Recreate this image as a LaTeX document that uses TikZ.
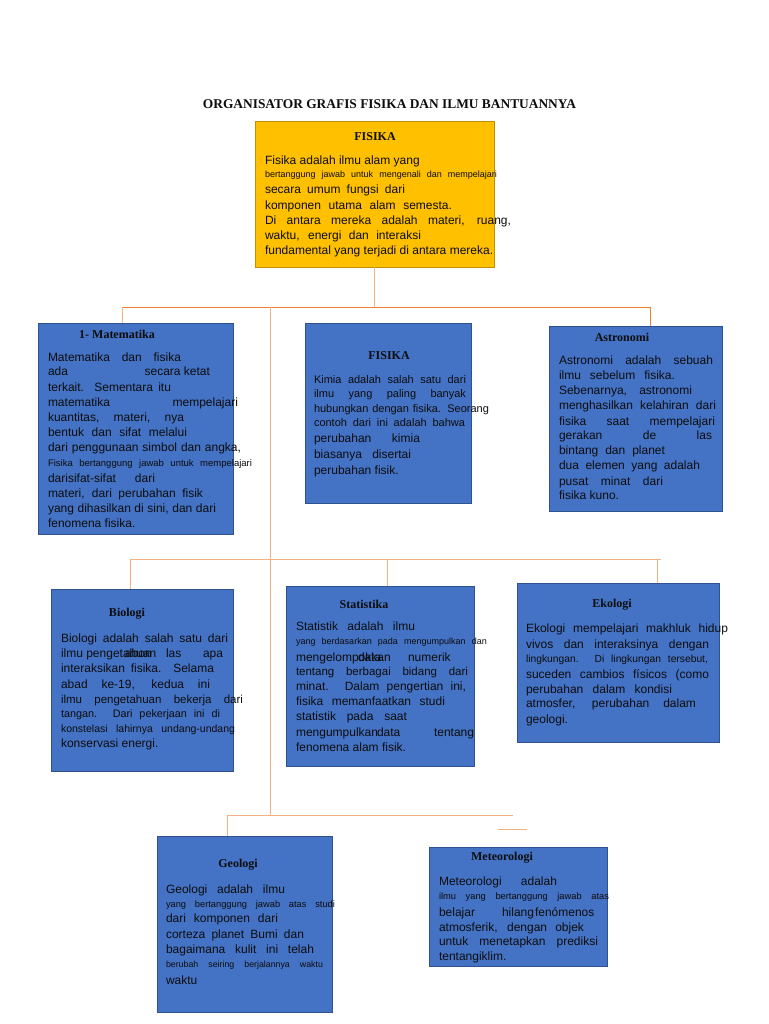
\documentclass[tikz,border=0pt]{standalone}
\usepackage{fontspec}
\setmainfont{Liberation Sans}
\newfontfamily\tnr{Liberation Serif}
\definecolor{bfill}{HTML}{4472C4}
\definecolor{bline}{HTML}{2F528F}
\definecolor{yfill}{HTML}{FFC000}
\definecolor{yline}{HTML}{BF9000}
\definecolor{ork}{HTML}{ED7D31}
\definecolor{orl}{HTML}{F4B183}
\definecolor{txt}{HTML}{0D0D0D}
\newcounter{lnc}
\newcommand\fsz[1]{\fontsize{#1}{#1}\selectfont}
\newcommand\tl[4][12]{\stepcounter{lnc}\node[tline,font=\fsz{#1}] (t\thelnc) at (#2,#3) {#4};}
\newcommand\jl[5][12]{\stepcounter{lnc}\node[tline,font=\fsz{#1}] (t\thelnc) at (#2,#3) {\makebox[\dimexpr #4pt-#2pt\relax][s]{#5}};}
\newcommand\bx[6]{\node[#2, minimum width={(#5-#3)*1pt}, minimum height={(#6-#4)*1pt}] (#1) at ({(#3+#5)/2},{(#4+#6)/2}) {};}
\tikzset{
  tline/.style={anchor=mid west, inner sep=0pt, outer sep=0pt, text=txt},
  ttl/.style={anchor=center, inner sep=0pt, font=\tnr\bfseries\fsz{12}, text=txt},
  bbox/.style={draw=bline, fill=bfill, line width=1pt, inner sep=0pt, outer sep=0pt},
  ybox/.style={draw=yline, fill=yfill, line width=1pt, inner sep=0pt, outer sep=0pt},
  conk/.style={draw=ork, line width=1pt},
  conl/.style={draw=orl, line width=1pt},
}
\begin{document}
\begin{tikzpicture}[x=1pt,y=-1pt]
\fill[white] (0,0) rectangle (768,1024);
\useasboundingbox (0,0) rectangle (768,1024);

\node[ttl, font=\tnr\bfseries\fsz{13.4}] (title) at (389.5,104) {ORGANISATOR GRAFIS FISIKA DAN ILMU BANTUANNYA};

% boxes
\bx{fis}{ybox}{255}{122}{494}{267}
\bx{mat}{bbox}{38}{323}{233}{534}
\bx{kim}{bbox}{305}{323}{471}{503}
\bx{ast}{bbox}{549}{326}{722}{511}
\bx{bio}{bbox}{51}{589}{233}{771}
\bx{sta}{bbox}{286}{586}{474}{766}
\bx{eko}{bbox}{517}{583}{719}{742}
\bx{geo}{bbox}{157}{836}{332}{1012}
\bx{met}{bbox}{429}{847}{607}{966}

% connectors
\coordinate (h1L) at (122,307);
\coordinate (h1R) at (650,307);
\coordinate (tr0) at (270,307);
\coordinate (tr1) at (270,815);
\coordinate (h2L) at (130,559);
\coordinate (h2R) at (661,559);
\coordinate (h2M) at (387,559);
\coordinate (h2E) at (657,559);
\coordinate (h3L) at (227,815);
\coordinate (h3R) at (513,815);
\coordinate (s1) at (498,829);
\coordinate (s2) at (527,829);
\draw[conl] (fis.south) -- (fis.south |- h1L);
\draw[conk] (h1L) -- (h1R);
\draw[conl] (h1L) -- (h1L |- mat.north);
\draw[conk] (h1R) -- (h1R |- ast.north);
\draw[conl] (tr0) -- (tr1);
\draw[conl] (h2L) -- (h2R);
\draw[conl] (h2L) -- (h2L |- bio.north);
\draw[conl] (h2M) -- (h2M |- sta.north);
\draw[conl] (h2E) -- (h2E |- eko.north);
\draw[conl] (h3L) -- (h3R);
\draw[conl] (h3L) -- (h3L |- geo.north);
\draw[conl] (s1) -- (s2);

% FISIKA (yellow)
\node[ttl] (fis-t) at (375,137) {FISIKA};
\tl{265}{162}{Fisika adalah ilmu alam yang}
\jl[9]{265}{175}{497}{bertanggung jawab untuk mengenali dan mempelajari}
\jl{265}{191}{405}{secara umum fungsi dari}
\jl{265}{207}{452}{komponen utama alam semesta.}
\jl{265}{222}{511}{Di antara mereka adalah materi, ruang,}
\jl{265}{237}{421}{waktu, energi dan interaksi}
\tl{265}{252}{fundamental yang terjadi di antara mereka.}

% Matematika
\node[ttl] (mat-t) at (117,334) {1- Matematika};
\jl{48}{359}{181}{Matematika dan fisika}
\tl{48}{373}{\makebox[162pt][l]{ada\hfill secara ketat}}
\jl{48}{389}{171}{terkait. Sementara itu}
\tl{48}{404}{\makebox[190pt][l]{matematika\hfill mempelajari}}
\jl{48}{419}{184}{kuantitas, materi, nya}
\jl{48}{434}{187}{bentuk dan sifat melalui}
\jl{48}{449}{241}{dari penggunaan simbol dan angka,}
\jl[9.5]{48}{464}{252}{Fisika bertanggung jawab untuk mempelajari}
\tl{48}{480}{\makebox[107pt][l]{darisifat-sifat\hfill dari}}
\jl{48}{495}{203}{materi, dari perubahan fisik}
\jl{48}{510}{216}{yang dihasilkan di sini, dan dari}
\tl{48}{525}{fenomena fisika.}

% Kimia (FISIKA)
\node[ttl] (kim-t) at (389,356) {FISIKA};
\jl[11]{314}{381}{466}{Kimia adalah salah satu dari}
\jl[11]{314}{395}{466}{ilmu yang paling banyak}
\jl[11]{314}{410}{489}{hubungkan dengan fisika. Seorang}
\jl[11]{314}{424}{465}{contoh dari ini adalah bahwa}
\tl{314}{440}{\makebox[106pt][l]{perubahan\hfill kimia}}
\jl{314}{456}{411}{biasanya disertai}
\tl{314}{472}{perubahan fisik.}

% Astronomi
\node[ttl] (ast-t) at (622,337) {Astronomi};
\jl{559}{362}{713}{Astronomi adalah sebuah}
\jl{559}{377}{675}{ilmu sebelum fisika.}
\jl{559}{392}{692}{Sebenarnya, astronomi}
\jl{559}{407}{716}{menghasilkan kelahiran dari}
\jl{559}{423}{715}{fisika saat mempelajari}
\jl{559}{437}{712}{gerakan de las}
\jl{559}{452}{665}{bintang dan planet}
\jl{559}{467}{700}{dua elemen yang adalah}
\jl{559}{483}{663}{pusat minat dari}
\tl{559}{497}{fisika kuno.}

% Biologi
\node[ttl] (bio-t) at (127,614) {Biologi};
\jl{61}{640}{228}{Biologi adalah salah satu dari}
\tl{61}{655}{ilmu pengetahuan}
\tl{125}{655}{abon}
\tl{166}{655}{las}
\tl{203}{655}{apa}
\jl{61}{670}{214}{interaksikan fisika. Selama}
\jl{61}{686}{210}{abad ke-19, kedua ini}
\jl[11.5]{61}{701}{243}{ilmu pengetahuan bekerja dari}
\jl[10.8]{61}{715}{220}{tangan. Dari pekerjaan ini di}
\jl[10.5]{61}{730}{235}{konstelasi lahirnya undang-undang}
\tl{61}{745}{konservasi energi.}

% Statistika
\node[ttl] (sta-t) at (364,604) {Statistika};
\jl{296}{628}{415}{Statistik adalah ilmu}
\jl[9]{296}{642}{487}{yang berdasarkan pada mengumpulkan dan}
\tl{296}{659}{mengelompokkan}
\tl{358}{659}{data}
\tl{408}{659}{numerik}
\jl[11.5]{296}{673}{468}{tentang berbagai bidang dari}
\jl{296}{688}{466}{minat. Dalam pengertian ini,}
\jl{296}{703}{445}{fisika memanfaatkan studi}
\jl{296}{718}{407}{statistik pada saat}
\tl{296}{734}{mengumpulkan}
\tl{377}{734}{data}
\tl{434}{734}{tentang}
\tl{296}{749}{fenomena alam fisik.}

% Ekologi
\node[ttl] (eko-t) at (612,605) {Ekologi};
\jl{526}{630}{728}{Ekologi mempelajari makhluk hidup}
\jl{526}{646}{709}{vivos dan interaksinya dengan}
\jl[10.3]{526}{660}{708}{lingkungan. Di lingkungan tersebut,}
\jl{526}{676}{709}{suceden cambios físicos (como}
\jl{526}{691}{672}{perubahan dalam kondisi}
\jl{526}{705}{696}{atmosfer, perubahan dalam}
\tl{526}{721}{geologi.}

% Geologi
\node[ttl] (geo-t) at (238,865) {Geologi};
\jl{166}{891}{285}{Geologi adalah ilmu}
\jl[9.3]{166}{905}{335}{yang bertanggung jawab atas studi}
\jl{166}{920}{278}{dari komponen dari}
\jl{166}{936}{304}{corteza planet Bumi dan}
\jl{166}{951}{314}{bagaimana kulit ini telah}
\jl[8.8]{166}{965}{323}{berubah seiring berjalannya waktu}
\tl{166}{982}{waktu}

% Meteorologi
\node[ttl] (met-t) at (502,858) {Meteorologi};
\tl{439}{883}{\makebox[118pt][l]{Meteorologi\hfill adalah}}
\jl[9.3]{439}{897}{609}{ilmu yang bertanggung jawab atas}
\tl{439}{914}{belajar}
\tl{502}{914}{hilang}
\tl{535}{914}{fenómenos}
\jl{439}{929}{584}{atmosferik, dengan objek}
\jl{439}{943}{598}{untuk menetapkan prediksi}
\tl{439}{958}{tentangiklim.}
\end{tikzpicture}
\end{document}
